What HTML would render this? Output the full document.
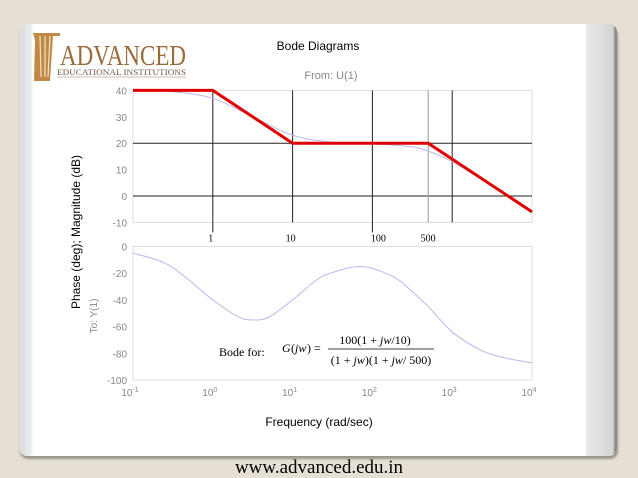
<!DOCTYPE html>
<html><head><meta charset="utf-8">
<style>
body{margin:0;width:638px;height:478px;background:#e5dfd4;overflow:hidden;font-family:"Liberation Sans",sans-serif;}
#card{position:absolute;left:19px;top:24px;width:598px;height:432px;border-radius:8px;background:linear-gradient(90deg,#d9dadb 0,#eceded 12px,#fff 14px,#fff 566px,#e9e9ea 568px,#d3d4d5 594px,#8e8b85 596px);box-shadow:1px 3px 2px #99958c;}
svg{position:absolute;left:0;top:0;}
</style></head><body>
<div id="card"></div>
<svg id="chart" width="638" height="478">
 <g>
  <path d="M33 33 L60 33 L60 36 L53 36 L50 81 L34 81 L35 40 Z" fill="#c08a45"/>
  <path d="M40 36 L41 77 M45 36 L45 77 M50 36 L48 77" stroke="#f2e2c8" stroke-width="1.2"/>
  <text x="60" y="65" font-family="Liberation Serif,serif" font-size="29" fill="#9a6a38" textLength="126" lengthAdjust="spacingAndGlyphs">ADVANCED</text>
  <line x1="57" y1="77" x2="186" y2="77" stroke="#a08060" stroke-width="0.6"/>
  <text x="57" y="75" font-family="Liberation Serif,serif" font-size="8.5" fill="#6b5a48" textLength="129" lengthAdjust="spacingAndGlyphs">EDUCATIONAL INSTITUTIONS</text>
 </g>
 <text x="318" y="50" font-size="12" text-anchor="middle" fill="#000">Bode Diagrams</text>
 <text x="331" y="79" font-size="11" text-anchor="middle" fill="#888">From: U(1)</text>
 <text transform="translate(80,232) rotate(-90)" font-size="12" text-anchor="middle">Phase (deg); Magnitude (dB)</text>
 <text transform="translate(97,316) rotate(-90)" font-size="10" text-anchor="middle" fill="#888">To: Y(1)</text>
 <text x="319" y="426" font-size="12" text-anchor="middle">Frequency (rad/sec)</text>
 <text x="319" y="473" font-size="19" font-family="Liberation Serif,serif" text-anchor="middle">www.advanced.edu.in</text>
 <g id="mag"></g>
 <g id="ph"></g>
 <g font-family="Liberation Serif,serif" font-size="12">
  <text x="219" y="356">Bode for:</text>
  <text x="282" y="352" font-style="italic">G</text><text x="291" y="352">(</text><text x="295" y="352" font-style="italic">jw</text><text x="307" y="352">) =</text>
  <text x="375" y="344" text-anchor="middle">100(1 + <tspan font-style="italic">jw</tspan>/10)</text>
  <line x1="328" y1="349" x2="434" y2="349" stroke="#000" stroke-width="0.8"/>
  <text x="381" y="364" text-anchor="middle">(1 + <tspan font-style="italic">jw</tspan>)(1 + <tspan font-style="italic">jw</tspan>/ 500)</text>
 </g>
</svg>
<script>
const magTicks=[40,30,20,10,0,-10];
const phTicks=[0,-20,-40,-60,-80,-100];
const decadeExps=[-1,0,1,2,3,4];
const cornerLabels=["1","10","100","500"];
const cornerFreqs=[1,10,100,500];
const asymFreqs=[0.1,1,10,500,10000];
const asymMag=[40,40,20,20,-6];
const magFreqs=[0.1,0.3,1,3,10,30,100,300,500,1000,3000,10000];
const magVals=[40,39.6,37,30.4,23,20.5,19.8,18.7,17,13,4.3,-6];
const phFreqs=[0.1,0.2,0.3,0.5,1,2,3,5,10,20,30,60,100,200,300,500,1000,2000,3000,5000,10000];
const phVals=[-5,-10,-15,-25,-40,-52,-55,-53,-40,-25,-20,-15.3,-16.4,-24,-32.7,-45,-64,-76,-80.5,-84,-87.2];
const NS="http://www.w3.org/2000/svg";
const X0=133,DEC=79.8;
const xs=w=>X0+DEC*(Math.log10(w)+1);
const ym=v=>196-v*2.64;
const yp=v=>246.5-v*1.335;
function mk(p,t,a){const e=document.createElementNS(NS,t);for(const k in a)e.setAttribute(k,a[k]);p.appendChild(e);return e;}
function smooth(pts){let d='M'+pts[0][0]+','+pts[0][1];
 for(let i=0;i<pts.length-1;i++){const p0=pts[Math.max(i-1,0)],p1=pts[i],p2=pts[i+1],p3=pts[Math.min(i+2,pts.length-1)];
  d+=' C'+(p1[0]+(p2[0]-p0[0])/6)+','+(p1[1]+(p2[1]-p0[1])/6)+' '+(p2[0]-(p3[0]-p1[0])/6)+','+(p2[1]-(p3[1]-p1[1])/6)+' '+p2[0]+','+p2[1];}
 return d;}
const mag=document.getElementById('mag'),ph=document.getElementById('ph');
let r=mk(mag,'rect',{x:X0,y:ym(40),width:DEC*5,height:ym(-10)-ym(40),fill:'none',stroke:'#ddd'});


magTicks.forEach(v=>{
 const t=mk(mag,'text',{x:X0-6,y:ym(v)+4,'font-size':10,fill:'#888','text-anchor':'end'});t.textContent=v;
 
 
 if(v===20||v===0){const l=mk(mag,'line',{x1:X0,x2:X0+DEC*5,y1:ym(v),y2:ym(v),stroke:'#222','stroke-width':1});
 
 }
});
[1,10,100,1000].forEach(w=>{
 const l=mk(mag,'line',{x1:xs(w),x2:xs(w),y1:ym(40),y2:ym(-10)+((w===1||w===100)?10:0),stroke:'#222','stroke-width':1});
 
 
});
let l5=mk(mag,'line',{x1:xs(500),x2:xs(500),y1:ym(40),y2:ym(-10),stroke:'#999','stroke-width':1});


cornerFreqs.forEach((w,i)=>{
 const t=mk(mag,'text',{x:xs(w)+(w===100?6:w===500?0:-2),y:ym(-10)+19,'font-size':10,'font-family':'Liberation Serif,serif','text-anchor':'middle'});t.textContent=cornerLabels[i];
 
 
});
let pm=mk(mag,'path',{d:smooth(magFreqs.map((w,i)=>[xs(w),ym(magVals[i])])),fill:'none',stroke:'#b8b8ee','stroke-width':1});


let pa=mk(mag,'polyline',{points:asymFreqs.map((w,i)=>xs(w)+','+ym(asymMag[i])).join(' '),fill:'none',stroke:'#e00000','stroke-width':3});


let r2=mk(ph,'rect',{x:X0,y:yp(0),width:DEC*5,height:yp(-100)-yp(0),fill:'none',stroke:'#ddd'});


phTicks.forEach(v=>{
 const t=mk(ph,'text',{x:X0-6,y:yp(v)+4,'font-size':10,fill:'#888','text-anchor':'end'});t.textContent=v;
 
 
});
decadeExps.forEach(e=>{
 const t=mk(ph,'text',{x:xs(Math.pow(10,e))-3,y:yp(-100)+16,'font-size':10,fill:'#888','text-anchor':'middle'});
 t.textContent='10';
 const s=mk(t,'tspan',{dy:-4,'font-size':7});s.textContent=e;
 
 
});
let pp=mk(ph,'path',{d:smooth(phFreqs.map((w,i)=>[xs(w),yp(phVals[i])])),fill:'none',stroke:'#b8b8ee','stroke-width':1});


</script>
</body></html>
